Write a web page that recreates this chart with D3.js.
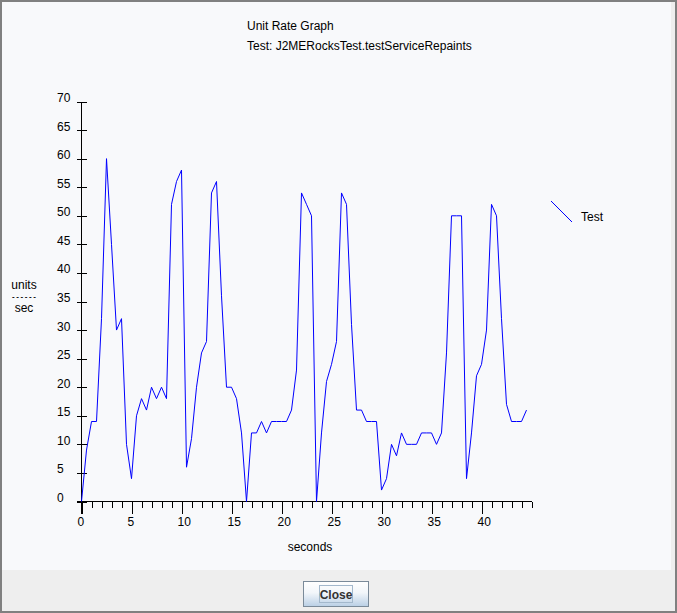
<!DOCTYPE html>
<html>
<head>
<meta charset="utf-8">
<script src="https://cdn.jsdelivr.net/npm/d3@7"></script>
<style>
  body { margin: 0; background: #eeeeee; }
  svg { display: block; font-family: "Liberation Sans", Arial, sans-serif; font-size: 12px; }
</style>
</head>
<body>
<div id="chart"></div>
<script>
const seconds = [
  0, 0.5, 1, 1.5, 2, 2.5, 3, 3.5, 4, 4.5,
  5, 5.5, 6, 6.5, 7, 7.5, 8, 8.5, 9, 9.5,
  10, 10.5, 11, 11.5, 12, 12.5, 13, 13.5, 14, 14.5,
  15, 15.5, 16, 16.5, 17, 17.5, 18, 18.5, 19, 19.5,
  20, 20.5, 21, 21.5, 22, 22.5, 23, 23.5, 24, 24.5,
  25, 25.5, 26, 26.5, 27, 27.5, 28, 28.5, 29, 29.5,
  30, 30.5, 31, 31.5, 32, 32.5, 33, 33.5, 34, 34.5,
  35, 35.5, 36, 36.5, 37, 37.5, 38, 38.5, 39, 39.5,
  40, 40.5, 41, 41.5, 42, 42.5, 43, 43.5, 44, 44.5
];
const unitsPerSec = [
  0, 9, 14, 14, 32, 60, 45, 30, 32, 10,
  4, 15, 18, 16, 20, 18, 20, 18, 52, 56,
  58, 6, 11, 20, 26, 28, 54, 56, 36, 20,
  20, 18, 12, 0, 12, 12, 14, 12, 14, 14,
  14, 14, 16, 23, 54, 52, 50, 0, 12, 21,
  24, 28, 54, 52, 31, 16, 16, 14, 14, 14,
  2, 4, 10, 8, 12, 10, 10, 10, 12, 12,
  12, 10, 12, 26, 50, 50, 50, 4, 12, 22,
  24, 30, 52, 50, 32, 17, 14, 14, 14, 16
];
const seriesName = "Test";
const xTicks = [0, 5, 10, 15, 20, 25, 30, 35, 40];
const xMinorTicks = d3.range(0, 46, 1);
const yTicks = [0, 5, 10, 15, 20, 25, 30, 35, 40, 45, 50, 55, 60, 65, 70];
const titleLines = ["Unit Rate Graph", "Test: J2MERocksTest.testServiceRepaints"];
const yLabelTop = "units";
const yLabelBar = "------";
const yLabelBottom = "sec";

const data = seconds.map((s, i) => ({ t: s, v: unitsPerSec[i] }));

const width = 677;
const height = 613;

const svg = d3.select("#chart")
  .append("svg")
  .attr("width", width)
  .attr("height", height)
  .attr("viewBox", [0, 0, width, height]);

// cadre de la fenêtre
svg.append("rect").attr("width", width).attr("height", height).attr("fill", "#808080");
svg.append("rect").attr("x", 2).attr("y", 2).attr("width", 673).attr("height", 609).attr("fill", "#eeeeee");
svg.append("rect").attr("x", 2).attr("y", 2).attr("width", 669).attr("height", 568).attr("fill", "#f8f9fb");

const x = d3.scaleLinear().domain([0, 45]).range([81.5, 531.5]);
const y = d3.scaleLinear().domain([0, 70]).range([501.5, 101.5]);

// titre
svg.append("g")
  .selectAll("text")
  .data(titleLines)
  .join("text")
  .attr("x", 247)
  .attr("y", (d, i) => 30 + i * 20)
  .attr("fill", "#000")
  .text((d) => d);

// axe des x : graduations mineures
svg.append("g")
  .attr("transform", `translate(0,${y(0)})`)
  .attr("shape-rendering", "crispEdges")
  .call(d3.axisBottom(x).tickValues(xMinorTicks).tickSize(6).tickSizeOuter(0).tickFormat(""))
  .call((g) => g.select(".domain").remove())
  .call((g) => g.selectAll(".tick line").attr("stroke", "#000"));

// axe des x : graduations principales + libellés
svg.append("g")
  .attr("transform", `translate(0,${y(0)})`)
  .attr("shape-rendering", "crispEdges")
  .call(d3.axisBottom(x).tickValues(xTicks).tickSize(12).tickSizeOuter(0))
  .call((g) => g.select(".domain").remove())
  .call((g) => g.selectAll(".tick line").attr("stroke", "#000"))
  .call((g) =>
    g.selectAll(".tick text")
      .attr("text-anchor", "start")
      .attr("x", -4.5)
      .attr("y", 0)
      .attr("dy", "24.5")
      .attr("fill", "#000")
      .style("font-size", "12px")
      .style("font-family", "Liberation Sans, Arial, sans-serif")
  );

// ligne de l'axe des x
svg.append("line")
  .attr("x1", x(0) - 5)
  .attr("x2", x(45))
  .attr("y1", y(0))
  .attr("y2", y(0))
  .attr("stroke", "#000")
  .attr("shape-rendering", "crispEdges");

// axe des y
svg.append("g")
  .attr("transform", `translate(${x(0)},0)`)
  .attr("shape-rendering", "crispEdges")
  .call(d3.axisLeft(y).tickValues(yTicks).tickSize(5).tickSizeOuter(0))
  .call((g) => g.select(".domain").remove())
  .call((g) => g.selectAll(".tick line").attr("x1", 5).attr("x2", -5).attr("stroke", "#000"))
  .call((g) =>
    g.selectAll(".tick text")
      .attr("text-anchor", "start")
      .attr("x", -24.5)
      .attr("dy", "0")
      .attr("y", 0)
      .attr("fill", "#000")
      .style("font-size", "12px")
      .style("font-family", "Liberation Sans, Arial, sans-serif")
  );

svg.append("line")
  .attr("x1", x(0))
  .attr("x2", x(0))
  .attr("y1", y(70))
  .attr("y2", y(0) + 12)
  .attr("stroke", "#000")
  .attr("shape-rendering", "crispEdges");

// libellés des axes
svg.append("text")
  .attr("x", 310)
  .attr("y", 551)
  .attr("text-anchor", "middle")
  .text("seconds");

// "units / sec" : la barre est plus petite pour ne pas chevaucher
svg.append("text")
  .attr("x", 24).attr("y", 289)
  .attr("text-anchor", "middle")
  .text(yLabelTop);
svg.append("text")
  .attr("x", 24.8).attr("y", 299)
  .attr("text-anchor", "middle")
  .attr("font-size", 8)
  .attr("font-weight", "bold")
  .attr("letter-spacing", 1.6)
  .text(yLabelBar);
svg.append("text")
  .attr("x", 24).attr("y", 312)
  .attr("text-anchor", "middle")
  .text(yLabelBottom);

// la courbe
const line = d3.line()
  .x((d) => x(d.t))
  .y((d) => y(d.v));

svg.append("path")
  .datum(data)
  .attr("fill", "none")
  .attr("stroke", "#0000ff")
  .attr("stroke-width", 1)
  .attr("d", line);

// légende
svg.append("line")
  .attr("x1", 551).attr("y1", 201)
  .attr("x2", 572).attr("y2", 222)
  .attr("stroke", "#0000ff");
svg.append("text").attr("x", 581).attr("y", 221).text(seriesName);

// bouton Close
const grad = svg.append("defs").append("linearGradient")
  .attr("id", "btn").attr("x1", 0).attr("y1", 0).attr("x2", 0).attr("y2", 1);
grad.append("stop").attr("offset", "0%").attr("stop-color", "#ffffff");
grad.append("stop").attr("offset", "45%").attr("stop-color", "#f2f6fa");
grad.append("stop").attr("offset", "100%").attr("stop-color", "#b9cfe5");

svg.append("rect")
  .attr("x", 303.5).attr("y", 581.5).attr("width", 65).attr("height", 25)
  .attr("fill", "url(#btn)").attr("stroke", "#7a8a99")
  .attr("shape-rendering", "crispEdges");
svg.append("rect")
  .attr("x", 319.5).attr("y", 585.5).attr("width", 33).attr("height", 17)
  .attr("fill", "none").attr("stroke", "#a3b8cc")
  .attr("shape-rendering", "crispEdges");
svg.append("text")
  .attr("x", 336).attr("y", 599)
  .attr("text-anchor", "middle")
  .attr("font-weight", "bold")
  .attr("fill", "#333333")
  .text("Close");
</script>
</body>
</html>
